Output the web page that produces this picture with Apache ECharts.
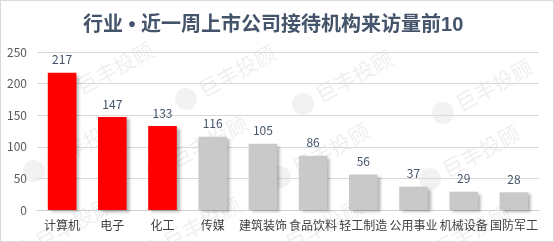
<!DOCTYPE html>
<html>
<head>
<meta charset="utf-8">
<script src="https://cdn.jsdelivr.net/npm/echarts@6/dist/echarts.min.js"></script>
<style>
html,body{margin:0;padding:0;background:#fff;}
#c{width:554px;height:242px;box-sizing:border-box;border:1px solid #d9d9d9;}
</style>
</head>
<body>
<div id="c"></div>
<script>
var titleText = '行业 • 近一周上市公司接待机构来访量前10';
var categories = ['计算机','电子','化工','传媒','建筑装饰','食品饮料','轻工制造','公用事业','机械设备','国防军工'];
var visits = [217,147,133,116,105,86,56,37,29,28];
var highlightCount = 3;
var yTicks = [0,50,100,150,200,250];

var chart = echarts.init(document.getElementById('c'), null, {renderer:'canvas'});
var font = '"Noto Sans CJK SC", "Microsoft YaHei", sans-serif';
var titleFont = '"Liberation Sans", "Noto Sans CJK SC", sans-serif';

var wmPos = [[63,95],[185,98],[302,103],[442,112],[33,170],[157,168],[279,176],[429,178],[22,250],[150,250],[272,252],[420,258]];
var graphics = wmPos.map(function(p){
  return {
    type:'group', x:p[0], y:p[1], rotation:0.5, z:100, silent:true,
    children:[
      {type:'circle', shape:{cx:0,cy:0,r:11}, style:{fill:'rgba(140,140,140,0.11)'}},
      {type:'text', x:16, y:0, style:{text:'巨丰投顾', fontSize:21, fontFamily:font, fill:'rgba(140,140,140,0.14)', verticalAlign:'middle', align:'left'}}
    ]
  };
});

chart.setOption({
  animation:false,
  title:{text:titleText, left:77, top:9,
    textStyle:{fontSize:20, fontWeight:'bold', color:'#44546A', fontFamily:titleFont}},
  grid:{left:36, right:14, top:51, bottom:31},
  xAxis:{type:'category', data:categories,
    axisLine:{lineStyle:{color:'#d0d0d0'}}, axisTick:{show:false},
    axisLabel:{color:'#404040', fontSize:12, margin:9, interval:0, fontFamily:font}},
  yAxis:{type:'value', min:yTicks[0], max:yTicks[yTicks.length-1], interval:50,
    axisLine:{show:false}, axisTick:{show:false},
    splitLine:{lineStyle:{color:'#d9d9d9'}},
    axisLabel:{color:'#595959', fontSize:12, margin:10, fontFamily:font}},
  series:[{
    type:'bar', barWidth:'57%',
    data:visits.map(function(v,i){
      return {value:v, itemStyle:{color: i<highlightCount ? '#FF0000' : '#C9C9C9'}};
    }),
    itemStyle:{shadowColor:'rgba(0,0,0,0.3)', shadowOffsetX:3, shadowOffsetY:2, shadowBlur:3},
    label:{show:true, position:'top', distance:7, color:'#44546A', fontSize:12, fontFamily:font}
  }],
  graphic:graphics
});
</script>
</body>
</html>
